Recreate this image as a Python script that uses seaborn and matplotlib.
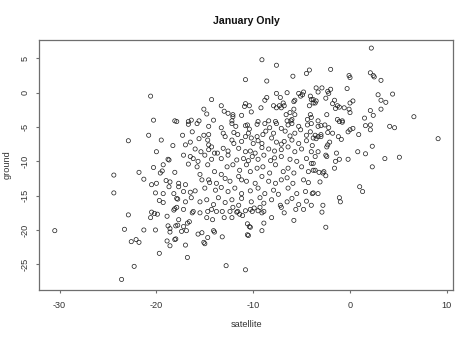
import matplotlib
matplotlib.use("Agg")
import matplotlib.pyplot as plt
import seaborn as sns

# ---- data ----
satellite = [
    -20.6, -20.3, -18.1,
    -9.1, -7.6, -10.8, -8.6, -5.9, -4.5, -4.2,
    -14.3, -13.3, -15.1, -14.8, -13.0, -12.6, -12.1, -12.1,
    -11.2, -10.8, -10.9, -10.4, -10.2, -9.2, -8.8, -8.6,
    -7.6, -7.2, -7.9, -7.6, -7.3, -7.1, -6.8, -6.9,
    -6.5, -6.6, -6.2, -5.8, -5.7, -5.8,
    -5.3, -5.1, -4.8, -4.9, -4.1, -4.0, -3.8, -4.2,
    -4.1, -4.4, -4.0, -5.7, -6.0,
    -8.4, -7.7, -6.5, -6.1,
    -12.2, -14.1, -15.6, -16.4, -16.7, -17.9, -9.5,
    2.2, -2.0, -0.1, 0.0, 2.1, 2.4, 2.5, 3.2,
    -3.5, -2.9, -3.3, -2.3, -2.0, -2.2, -0.3, 2.9, 4.4, 3.2, 3.7,
    -2.5, -1.6, -1.8, -1.3, -1.5, -1.1, -0.6, 0.0, 0.3, -0.1, 0.0,
    -3.5, -3.8, -3.6, 2.1, 2.4, 3.2, 1.5,
    -2.4, -1.3, -0.8, -3.3, 6.6,
    -20.8, -22.9, -19.5, -18.3, -20.0, -18.8, -18.7,
    -19.3, -19.4, -19.6, -20.3, -18.1, -24.4, -21.8, -21.3,
    -20.5, -20.0, -19.0, -18.6, -18.7, -18.2, -17.9,
    -24.4, -20.1, -19.3, -19.7, -19.3,
    -30.5, -22.9, -23.3, -20.5, -20.2, -19.9, -20.6,
    -18.9, -18.2, -17.9, -21.3, -20.1, -18.8, -18.6, -18.6, -18.0,
    -22.6, -22.1, -21.8, -18.9, -18.6, -18.1, -19.7, -22.3, -23.6,
    -16.8, -12.8, -10.8, -17.0, -15.1, -15.0, -13.2, -15.7, -15.3, -14.7, -14.0, -14.1, -10.6, -10.5,
    -17.4, -16.9, -17.8, -17.2, -16.6, -16.8, -17.7, -18.0, -14.2,
    -14.8, -13.0, -12.2, -10.6, -10.4, -10.3, -9.1, -8.9, -8.1, -5.8, -6.8, -5.6, -4.8,
    -18.1, -17.2, -16.3, -16.2, -15.5, -14.7, -14.3, -13.8, -13.2, -12.4, -11.7, -11.6,
    -11.1, -12.1, -11.4, -10.8, -10.3, -10.1, -9.9, -9.5, -9.1, -8.9, -9.3, -7.1,
    -2.8, -2.9, -2.5,
    9.1, 3.6, 5.1, 2.3, 2.3, 0.8, 1.6,
    1.6, 2.1, 2.1, 4.1, 4.6, -0.2, 0.0, 0.3, 0.9,
    1.0, 1.3, -1.1, -1.0, -3.8, -3.3, -3.1,
    -3.2, -2.8, -2.5, -2.7, -1.6, -1.5, -1.1, -0.2,
    -1.4, -2.4, -2.5, -3.6, -3.8, -3.6, -2.4, -2.3, -2.1, -3.3,
    -3.6, -3.3, -3.0, -3.0, -2.3, -1.8, -1.2, -0.9, -3.5, -3.8,
    -3.0, -2.6, -2.2, -3.3, -1.1, -0.8,
    -16.7, -15.8, -14.6, -13.3, -12.2, -11.8, -10.8, -10.6, -10.4, -9.6, -8.8, -8.3, -7.6, -7.1, -6.4, -6.0, -5.3, -4.4, -4.0,
    -17.3, -16.3, -15.1, -14.6, -13.1, -12.9, -12.0, -11.6, -10.8, -10.5, -9.6, -9.0, -8.7, -7.9, -6.7, -6.2, -5.7, -5.1, -4.5, -4.1,
    -17.0, -16.5, -15.6, -14.7, -14.6, -14.3, -12.2, -12.0, -11.2, -10.2, -10.0, -9.5, -9.1, -8.1, -7.6, -7.1, -6.8, -6.0, -5.3, -4.5, -3.9,
    -17.2, -16.0, -15.4, -14.6, -14.0, -13.7, -13.1, -12.6, -11.5, -10.8, -10.3, -9.8, -9.1, -8.4, -7.8, -7.1, -6.4, -5.7, -5.0, -4.0,
    -16.5, -16.2, -15.7, -15.0, -14.3, -13.3, -12.6, -11.7, -11.0, -10.5, -10.1, -9.5, -8.9, -8.2, -7.8, -7.1, -6.2, -5.5, -4.5, -4.0,
    -16.7, -15.8, -14.7, -14.0, -13.3, -12.7, -12.1, -11.4, -10.7, -10.3, -9.6, -9.0, -8.3, -7.7, -6.9, -6.4, -5.8, -5.0, -4.3, -3.8,
    -17.7, -17.0, -15.5, -15.3, -14.6, -14.5, -13.8, -12.9, -12.4, -11.5, -11.2, -10.7, -9.8, -9.1, -8.4, -7.7, -7.1, -6.5, -5.9, -4.8, -4.3,
    -17.7, -17.2, -16.5, -16.0, -15.0, -13.9, -13.3, -12.6, -11.9, -11.2, -10.3, -9.5, -8.8, -7.9, -7.4, -6.4, -5.5, -4.6, -3.9,
    -17.8, -17.0, -16.4, -15.5, -14.8, -14.1, -13.6, -12.9, -12.2, -11.5, -11.2, -10.2, -9.3, -8.9, -8.1, -7.2, -6.5, -6.0, -5.3, -4.5, -4.0,
]

ground = [
    -0.5, -4.0, -4.1,
    4.8, 4.0, 1.9, 1.7, 2.4, 2.8, 3.3,
    -1.0, -1.9, -2.4, -3.1, -2.7, -3.0, -3.2, -3.5,
    -3.3, -1.6, -2.0, -1.9, -2.8, -2.2, -1.1, -0.7,
    -0.1, -0.7, -1.9, -2.2, -1.9, -2.2, -1.9, -1.5,
    0.0, -3.2, -2.9, -2.4, -1.1, -1.3,
    -0.1, -0.5, 0.1, -0.3, -0.5, -1.0, -1.5, -1.9,
    -3.2, -3.9, -3.6, -3.2, -3.9,
    -4.1, -4.2, -4.1, -4.1,
    -4.1, -4.0, -4.1, -4.0, -4.2, -4.2, -4.2,
    6.5, 3.4, 2.5, 2.2, 2.9, 2.5, 2.3, 1.8,
    0.7, 0.7, 0.1, 0.2, 0.5, -0.1, 0.6, -0.3, -0.2, -1.1, -1.4,
    -0.8, -1.1, -1.6, -1.9, -2.3, -2.1, -2.2, -1.5, -1.2, -2.4, -2.9,
    -1.2, -1.0, -1.5, -2.6, -3.3, -2.4, -3.7,
    -3.2, -3.9, -4.1, -4.1, -3.5,
    -6.2, -7.0, -6.9, -7.7, -8.6, -9.7, -9.8,
    -10.5, -11.4, -11.7, -10.9, -11.6, -12.0, -11.6, -12.6,
    -13.4, -13.2, -12.8, -13.0, -13.7, -14.7, -15.4,
    -14.6, -14.6, -14.7, -15.7, -16.0,
    -20.1, -17.8, -19.9, -17.4, -17.6, -17.7, -18.2,
    -18.0, -17.1, -16.7, -20.0, -20.0, -19.4, -19.8, -20.3, -19.4,
    -21.7, -21.4, -21.8, -21.6, -22.3, -21.4, -23.4, -25.3, -27.2,
    -24.0, -25.2, -25.8, -22.2, -21.8, -22.0, -21.0, -20.6, -20.4, -21.1, -20.3, -20.1, -20.7, -20.8,
    -20.2, -20.1, -19.3, -19.5, -18.8, -19.0, -18.5, -21.3, -18.5,
    -18.2, -18.2, -18.2, -19.1, -19.5, -19.6, -20.1, -19.0, -18.2, -18.6, -17.5, -17.0, -17.0,
    -16.9, -17.0, -17.5, -17.3, -17.5, -17.3, -17.0, -17.3, -17.3, -17.3, -17.4, -17.3,
    -17.9, -16.7, -17.7, -17.2, -17.0, -17.3, -16.8, -17.2, -17.5, -17.3, -16.7, -16.7,
    -16.4, -17.4, -19.6,
    -6.7, -9.6, -9.4, -7.8, -10.8, -8.6, -8.9,
    -4.8, -4.7, -5.4, -4.9, -5.1, -5.7, -5.4, -5.2, -6.1,
    -13.7, -14.4, -15.3, -15.9, -14.6, -14.7, -13.0,
    -11.6, -11.7, -12.1, -11.5, -11.0, -10.0, -9.7, -9.7,
    -8.8, -9.3, -9.1, -9.3, -10.3, -11.3, -7.9, -7.6, -7.2, -8.6,
    -6.2, -6.4, -6.1, -6.4, -5.8, -5.9, -6.4, -6.8, -6.7, -6.6,
    -4.8, -4.7, -5.1, -4.9, -4.2, -4.3,
    -4.6, -4.5, -4.9, -5.1, -4.5, -4.9, -4.8, -4.7, -5.3, -4.6, -4.5, -5.1, -4.5, -5.2, -4.7, -4.5, -4.9, -4.7, -4.5,
    -6.2, -5.7, -6.2, -6.1, -5.9, -6.4, -5.8, -6.1, -6.4, -5.9, -6.4, -6.1, -5.6, -5.9, -5.6, -6.3, -5.9, -5.4, -6.2, -5.7,
    -7.6, -7.2, -6.7, -6.9, -7.6, -7.9, -6.9, -7.4, -7.1, -6.6, -7.4, -7.0, -7.4, -6.6, -7.2, -7.5, -7.1, -6.9, -7.4, -7.0, -7.7,
    -9.1, -8.2, -8.6, -8.3, -8.8, -8.8, -8.1, -8.5, -8.1, -8.6, -8.5, -8.8, -8.0, -8.2, -8.5, -8.3, -7.9, -8.6, -8.2, -8.6,
    -9.3, -9.6, -10.0, -9.1, -9.7, -9.6, -9.1, -9.8, -9.6, -9.9, -9.3, -9.7, -9.1, -9.9, -9.5, -9.3, -9.7, -10.0, -9.6, -10.3,
    -10.4, -10.8, -10.5, -11.5, -11.9, -10.8, -10.5, -11.3, -10.5, -11.5, -11.0, -10.8, -11.7, -10.5, -11.5, -11.0, -11.7, -10.8, -11.5, -11.3,
    -13.2, -13.4, -11.9, -12.7, -12.7, -13.1, -13.2, -12.5, -12.9, -12.2, -12.7, -12.9, -13.2, -12.2, -12.9, -13.2, -12.7, -12.4, -13.2, -12.7, -13.1,
    -13.7, -14.4, -14.5, -14.3, -13.9, -14.2, -13.8, -14.4, -13.9, -14.7, -14.3, -13.9, -14.7, -14.2, -14.8, -13.9, -14.7, -14.4, -14.7,
    -15.5, -15.9, -15.3, -15.9, -15.6, -16.3, -15.3, -16.0, -15.6, -16.4, -15.4, -15.9, -15.3, -16.1, -15.6, -16.4, -15.9, -15.4, -16.3, -15.8, -16.4,
]

x_ticks = [-30, -20, -10, 0, 10]
y_ticks = [-25, -20, -15, -10, -5, 0, 5]

sns.set_theme(style="white")
plt.rcParams["font.family"] = ["Liberation Sans", "DejaVu Sans"]

W, H = 474, 339
fig = plt.figure(figsize=(W / 100, H / 100), dpi=100)
left, right, top, bottom = 39.3, 453.0, 39.5, 289.7
ax = fig.add_axes([left / W, 1 - bottom / H, (right - left) / W, (bottom - top) / H])

sns.scatterplot(x=satellite, y=ground, ax=ax, marker="o", s=9,
                facecolor="none", edgecolor="#1a1a1a", linewidth=0.5)

ax.set_xlim(-32.1, 10.64)
ax.set_ylim(-28.7, 7.75)
ax.set_xticks(x_ticks)
ax.set_yticks(y_ticks)
ax.set_xticklabels([str(v) for v in x_ticks])
ax.set_yticklabels([str(v) for v in y_ticks], rotation=90, va="center")

frame_col = "#6e6e6e"
for sp in ax.spines.values():
    sp.set_color(frame_col)
    sp.set_linewidth(0.9)
    sp.set_visible(True)
ax.tick_params(axis="both", which="major", length=2.4, width=0.8, color=frame_col,
               labelsize=6.6, labelcolor="#333333", direction="out", bottom=True, left=True)
ax.tick_params(axis="x", pad=5.5)
ax.tick_params(axis="y", pad=4.5)
ax.grid(False)
ax.set_xlabel("")
ax.set_ylabel("")

cx = (left + right) / 2 / W
cy = 1 - (top + bottom) / 2 / H
fig.text(cx, 1 - 20.7 / H, "January Only", ha="center", va="center",
         fontsize=7.6, fontweight="bold", color="#111111")
fig.text(cx, 1 - 324.3 / H, "satellite", ha="center", va="center",
         fontsize=6.6, color="#333333")
fig.text(7.5 / W, cy, "ground", ha="center", va="center", rotation=90,
         fontsize=6.6, color="#333333")

fig.savefig("out.png", dpi=100)
